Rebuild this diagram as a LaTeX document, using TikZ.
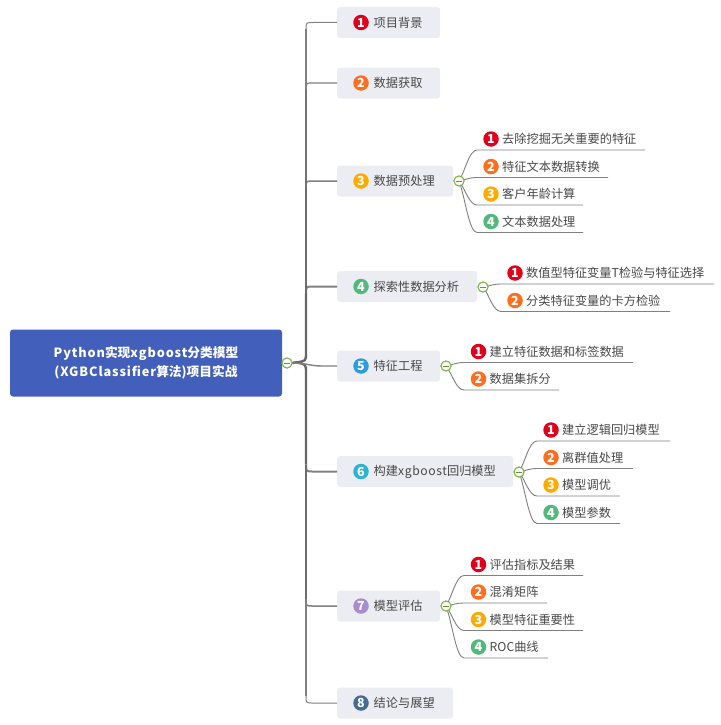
\documentclass[tikz,border=0pt]{standalone}
\usepackage{fontspec}
\setmainfont{Noto Sans CJK SC}
\usetikzlibrary{calc}
\definecolor{cA}{HTML}{E0001B}
\definecolor{cB}{HTML}{FF6D1F}
\definecolor{cC}{HTML}{FFAA00}
\definecolor{cD}{HTML}{52B97A}
\definecolor{cE}{HTML}{2E9BE0}
\definecolor{cF}{HTML}{2BB3CF}
\definecolor{cG}{HTML}{A98BD0}
\definecolor{cH}{HTML}{476C94}
\definecolor{topicbg}{HTML}{ECEDF3}
\definecolor{rootbg}{HTML}{425FBB}
\definecolor{linec}{HTML}{808080}
\definecolor{txt}{HTML}{484848}
\definecolor{hubc}{HTML}{7FB548}
\newcommand{\lsp}[2]{{\addfontfeature{LetterSpace=#1}#2}}
\tikzset{
 x=1pt,y=-1pt,
 rootbox/.style={fill=rootbg,rounded corners=3pt,text=white,font=\fontsize{12.7}{18.5}\selectfont\bfseries,align=center,inner sep=0pt},
 topicbox/.style={fill=topicbg,rounded corners=3pt,inner sep=0pt,anchor=west},
 badge/.style={circle,fill=#1,minimum size=15.5pt,inner sep=0pt,text=white,font=\fontsize{12.5}{12.5}\selectfont\bfseries},
 lbl/.style={text=txt,font=\fontsize{12.2}{12.2}\selectfont,inner sep=0pt,anchor=west},
 hub/.style={circle,draw=hubc,fill=white,line width=1pt,minimum size=10pt,inner sep=0pt},
 branch/.style={draw=linec,line width=1.1pt},
 subline/.style={draw=linec,line width=0.9pt},
}
\newcommand{\topicnode}[6]{% name, y, width, colour, number, text
 \node[topicbox,minimum width=#3pt,minimum height=31pt] (#1) at (337,#2) {};
 \node[badge=#4] (#1b) at (361,#2) {#5};
 \node[lbl] (#1t) at (373.5,#2) {#6};
}
\newcommand{\leafnode}[8]{% parent hub, name, xbadge, ylabel, xend, colour, number, text
 \node[badge=#6] (#2b) at (#3,#4) {#7};
 \node[lbl] (#2t) at ($(#2b.center)+(11,0)$) {#8};
 \coordinate (#2s) at ($(#1)+(18,0)$);
 \coordinate (#2s) at (#2s |- 0,#4+11);
 \coordinate (#2e) at (#5,#4+11);
 \draw[subline] (#1.center) .. controls ($(#1)!0.3!(#1 |- #2s)+(6,0)$) and ($(#2s)+(-8,0)$) .. (#2s) -- (#2e);
}
\begin{document}
\begin{tikzpicture}
\useasboundingbox (0,0) rectangle (720,725);
\node[rootbox,minimum width=272pt,minimum height=67pt] (root) at (146,363) {\lsp{7}{Python}实现\lsp{7}{xgboost}分类模型\\[0.6pt]\lsp{7}{(XGBClassifier}算法\lsp{7}{)}项目实战};
\node[hub] (rh) at (287,363) {};

\topicnode{t1}{22.5}{103}{cA}{1}{项目背景}
\topicnode{t2}{83}{103}{cB}{2}{数据获取}
\topicnode{t3}{181}{116}{cC}{3}{数据预处理}
\topicnode{t4}{286.5}{140}{cD}{4}{探索性数据分析}
\topicnode{t5}{366}{103}{cE}{5}{特征工程}
\topicnode{t6}{471.5}{176}{cF}{6}{构建\lsp{5}{xgboost}回归模型}
\topicnode{t7}{606}{103}{cG}{7}{模型评估}
\topicnode{t8}{703}{116}{cH}{8}{结论与展望}

\foreach \t/\w in {t1/1.0,t2/1.2,t3/1.5,t4/2.0}{
 \draw[branch,line width=\w pt] (\t.west) -- ($(\t.west)+(-24,0)$) .. controls ($(\t.west)+(-31,0)$) .. ($(\t.west)+(-31,7)$);
}
\foreach \t/\w in {t6/2.0,t7/1.5,t8/1.0}{
 \draw[branch,line width=\w pt] (\t.west) -- ($(\t.west)+(-24,0)$) .. controls ($(\t.west)+(-31,0)$) .. ($(\t.west)+(-31,-7)$);
}
% trunk, thinning away from the root
\draw[draw=linec,line width=1.1pt] ($(t1.west)+(-31,7)$) -- ($(t2.west)+(-31,7)$);
\draw[draw=linec!90!black,line width=1.4pt] ($(t2.west)+(-31,7)$) -- ($(t3.west)+(-31,7)$);
\draw[draw=linec!85!black,line width=1.8pt] ($(t3.west)+(-31,7)$) -- ($(t4.west)+(-31,7)$);
\draw[draw=linec!80!black,line width=2.4pt] ($(t4.west)+(-31,7)$) -- (306,353) .. controls (306,361) .. (296,362.5) -- (rh.east);
\draw[draw=linec!80!black,line width=2.4pt] (rh.east) -- (296,362.5) .. controls (306,364) .. (306,373) -- ($(t6.west)+(-31,-7)$);
\draw[draw=linec!85!black,line width=1.8pt] ($(t6.west)+(-31,-7)$) -- ($(t7.west)+(-31,-7)$);
\draw[draw=linec,line width=1.2pt] ($(t7.west)+(-31,-7)$) -- ($(t8.west)+(-31,-7)$);
\draw[branch,line width=1.4pt] (t5.west) -- (322,366) .. controls (310,366) and (306,363) .. (rh.east);

\node[hub] (h3) at (459,181) {};
\node[hub] (h4) at (483,287) {};
\node[hub] (h5) at (446,366) {};
\node[hub] (h6) at (519,472) {};
\node[hub] (h7) at (446,606) {};

\leafnode{h3}{a1}{491}{139}{645}{cA}{1}{去除挖掘无关重要的特征}
\leafnode{h3}{a2}{491}{166.5}{608}{cB}{2}{特征文本数据转换}
\leafnode{h3}{a3}{491}{194}{583}{cC}{3}{客户年龄计算}
\leafnode{h3}{a4}{491}{221.5}{583}{cD}{4}{文本数据处理}

\leafnode{h4}{b1}{515}{273}{714}{cA}{1}{数值型特征变量T检验与特征选择}
\leafnode{h4}{b2}{515}{300.5}{670}{cB}{2}{分类特征变量的卡方检验}

\leafnode{h5}{c1}{478.5}{351.5}{633}{cA}{1}{建立特征数据和标签数据}
\leafnode{h5}{c2}{478.5}{379}{559}{cB}{2}{数据集拆分}

\leafnode{h6}{d1}{551}{430}{670}{cA}{1}{建立逻辑回归模型}
\leafnode{h6}{d2}{551}{457.5}{633}{cB}{2}{离群值处理}
\leafnode{h6}{d3}{551}{485}{620}{cC}{3}{模型调优}
\leafnode{h6}{d4}{551}{512.5}{620}{cD}{4}{模型参数}

\leafnode{h7}{e1}{478.5}{564.5}{583}{cA}{1}{评估指标及结果}
\leafnode{h7}{e2}{478.5}{592}{547}{cB}{2}{混淆矩阵}
\leafnode{h7}{e3}{478.5}{619.5}{583}{cC}{3}{模型特征重要性}
\leafnode{h7}{e4}{478.5}{647}{548}{cD}{4}{ROC曲线}

\foreach \h in {rh,h3,h4,h5,h6,h7}{
 \node[hub] at (\h) {};
 \draw[draw=hubc!80!black,line width=0.8pt] ($(\h)+(-3,0)$) -- ($(\h)+(3,0)$);
}
\end{tikzpicture}
\end{document}
